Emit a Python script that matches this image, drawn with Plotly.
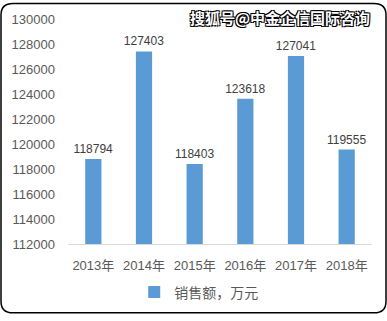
import plotly.graph_objects as go

years = ["2013年", "2014年", "2015年", "2016年", "2017年", "2018年"]
sales = [118794, 127403, 118403, 123618, 127041, 119555]
series_name = "销售额，万元"
y_ticks = list(range(112000, 130001, 2000))

W, H = 387, 321
L, R, T, B = 68, 15, 17, 72
pw, ph = W - L - R, H - T - B

def px(x):
    return (x - L) / pw

def py(y):
    return (H - B - y) / ph

fig = go.Figure()
fig.add_trace(go.Bar(
    x=years, y=sales, name=series_name,
    marker=dict(color="#5B9BD5", line=dict(width=0)),
    text=[str(v) for v in sales], textposition="outside",
    textfont=dict(color="#404040", size=12, family="Liberation Sans"),
    constraintext="none", cliponaxis=False,
))

# rounded border
x0, x1, y0, y1, r = 1, 386, 1, 320, 12
path = (f"M {px(x0+r)},{py(y0)} L {px(x1-r)},{py(y0)} Q {px(x1)},{py(y0)} {px(x1)},{py(y0+r)} "
        f"L {px(x1)},{py(y1-r)} Q {px(x1)},{py(y1)} {px(x1-r)},{py(y1)} "
        f"L {px(x0+r)},{py(y1)} Q {px(x0)},{py(y1)} {px(x0)},{py(y1-r)} "
        f"L {px(x0)},{py(y0+r)} Q {px(x0)},{py(y0)} {px(x0+r)},{py(y0)} Z")
fig.add_shape(type="path", path=path, xref="paper", yref="paper",
              line=dict(color="#000000", width=1.5), layer="above")

fig.add_annotation(
    text="搜狐号@中金企信国际咨询", xref="paper", yref="paper",
    x=1.0, y=py(15), xanchor="right", yanchor="middle", showarrow=False,
    font=dict(family="Noto Sans CJK SC", size=15, color="#ffffff", weight="bold",
              shadow="1px 1px 0 #000, -1px -1px 0 #000, 1px -1px 0 #000, -1px 1px 0 #000"),
)

fig.update_layout(
    width=W, height=H, margin=dict(l=L, r=R, t=T, b=B),
    paper_bgcolor="white", plot_bgcolor="white",
    bargap=0.68, showlegend=True,
    legend=dict(orientation="h", x=0.43, xanchor="center", y=py(299), yanchor="middle",
                itemwidth=30,
                font=dict(family="Noto Sans CJK SC", size=14, color="#595959")),
    font=dict(family="Liberation Sans", color="#595959", size=12),
)
fig.update_xaxes(showline=True, linecolor="#D9D9D9", linewidth=1, ticks="", ticklabelstandoff=9,
                 tickfont=dict(family="Liberation Sans, Noto Sans CJK SC", size=13, color="#595959"))
fig.update_yaxes(range=[112000, 130000], tickvals=y_ticks, showgrid=False, zeroline=False,
                 showline=False, ticks="", tickformat="d", ticklabelstandoff=12,
                 tickfont=dict(family="Liberation Sans", size=13, color="#595959"))

fig.write_html("out.html")
